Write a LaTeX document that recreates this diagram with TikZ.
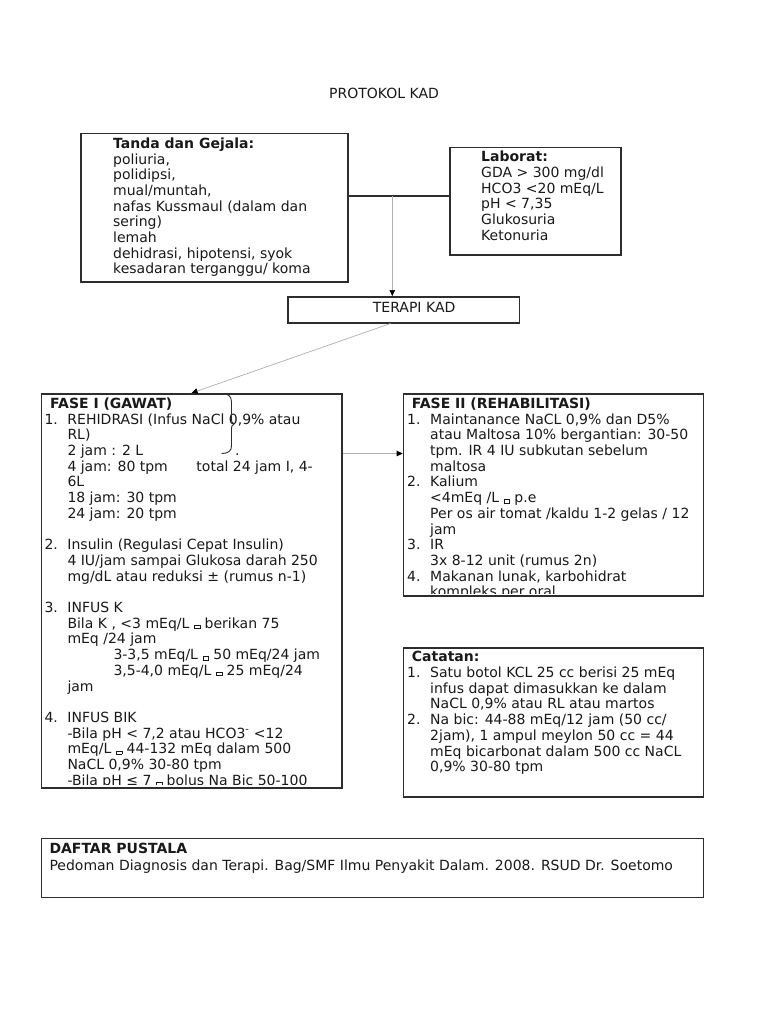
\documentclass[tikz,border=0pt]{standalone}
\usepackage{fontspec}
\setmainfont{DejaVu Sans}
\usepackage{tikz}
\usetikzlibrary{arrows.meta,calc}
\definecolor{boxline}{RGB}{45,45,45}
\definecolor{linkgray}{RGB}{175,175,175}
\newcommand{\nr}[1]{\makebox[23pt][l]{#1}}
\newcommand{\ind}{\hspace*{23pt}}
\newcommand{\tofu}{{\fboxsep=0pt\fboxrule=0.7pt\fbox{\rule{0pt}{2.6pt}\rule{5pt}{0pt}}}}

\begin{document}
\begin{tikzpicture}[x=1pt,y=1pt,
  box/.style={draw=boxline,line width=1.5pt,inner sep=0pt,anchor=north west},
  txt/.style={anchor=north west,inner sep=0pt,align=left,text=black!90,
    font=\fontsize{14pt}{15.7pt}\selectfont},
  link/.style={draw=linkgray,line width=0.7pt,
    -{Triangle[length=6pt,width=5.5pt,color=black]}}]
  \useasboundingbox[fill=white] (0,0) rectangle (768,-1024);
  % title
  \node[txt,anchor=base] (title) at (384,-99) {PROTOKOL KAD};
  % boxes
  \node[box,minimum width=267pt,minimum height=148pt] (tanda) at (80,-133) {};
  \node[box,minimum width=171pt,minimum height=107pt] (laborat) at (449,-147) {};
  \node[box,minimum width=231.6pt,minimum height=26pt] (terapi) at (287,-296) {};
  \node[box,minimum width=300.3pt,minimum height=394pt] (fase1) at (40.7,-393) {};
  \node[box,minimum width=300pt,minimum height=202pt] (fase2) at (402.7,-393) {};
  \node[box,minimum width=300pt,minimum height=148.7pt] (catatan) at (402.7,-647.3) {};
  \node[box,minimum width=662pt,minimum height=59pt] (daftar) at (40.7,-837.5) {};
  % texts
  \node[txt] (tandatxt) at (113,-137.2) {\strut\textbf{Tanda dan Gejala:}\\
    poliuria,\\
    polidipsi,\\
    mual/muntah,\\
    nafas Kussmaul (dalam dan\\
    sering)\\
    lemah\\
    dehidrasi, hipotensi, syok\\
    kesadaran terganggu/ koma};
  \node[txt] (laborattxt) at (481,-150.7) {\strut\textbf{Laborat:}\\
    GDA > 300 mg/dl\\
    HCO3 <20 mEq/L\\
    pH < 7,35\\
    Glukosuria\\
    Ketonuria};
  \node[txt,anchor=base west] (terapitxt) at (372.7,-312.3) {TERAPI KAD};
  \begin{scope}
    \clip (fase1.north west) rectangle ([yshift=4pt]fase1.south east);
    \node[txt] (fase1txt) at (44.3,-397.3) {\strut\hspace*{5.7pt}\textbf{FASE I (GAWAT)}\\
      \nr{1.}REHIDRASI (Infus NaCl 0,9\% atau\\
      \ind RL)\\
      \ind 2 jam : 2 L\\
      \ind\makebox[129pt][l]{4 jam: 80 tpm}total 24 jam I, 4-\\
      \ind 6L\\
      \ind 18 jam: 30 tpm\\
      \ind 24 jam: 20 tpm\\
      \strut\\
      \nr{2.}Insulin (Regulasi Cepat Insulin)\\
      \ind 4 IU/jam sampai Glukosa darah 250\\
      \ind mg/dL atau reduksi ± (rumus n-1)\\
      \strut\\
      \nr{3.}INFUS K\\
      \ind Bila K , <3 mEq/L \tofu\ berikan 75\\
      \ind mEq /24 jam\\
      \hspace*{69pt}3-3,5 mEq/L \tofu\ 50 mEq/24 jam\\
      \hspace*{69pt}3,5-4,0 mEq/L \tofu\ 25 mEq/24\\
      \ind jam\\
      \strut\\
      \nr{4.}INFUS BIK\\
      \ind -Bila pH < 7,2 atau HCO3\textsuperscript{-} <12\\
      \ind mEq/L \tofu\ 44-132 mEq dalam 500\\
      \ind NaCL 0,9\% 30-80 tpm\\
      \ind -Bila pH ≤ 7 \tofu\ bolus Na Bic 50-100};
  \end{scope}
  \begin{scope}
    \clip (fase2.north west) rectangle ([yshift=3pt]fase2.south east);
    \node[txt] (fase2txt) at (407,-397.3) {\strut\hspace*{4.7pt}\textbf{FASE II (REHABILITASI)}\\
      \nr{1.}Maintanance NaCL 0,9\% dan D5\%\\
      \ind atau Maltosa 10\% bergantian: 30-50\\
      \ind tpm. IR 4 IU subkutan sebelum\\
      \ind maltosa\\
      \nr{2.}Kalium\\
      \ind <4mEq /L \tofu\ p.e\\
      \ind Per os air tomat /kaldu 1-2 gelas / 12\\
      \ind jam\\
      \nr{3.}IR\\
      \ind 3x 8-12 unit (rumus 2n)\\
      \nr{4.}Makanan lunak, karbohidrat\\
      \ind kompleks per oral};
  \end{scope}
  \node[txt] (catatantxt) at (407,-650.7) {\strut\hspace*{4.7pt}\textbf{Catatan:}\\
    \nr{1.}Satu botol KCL 25 cc berisi 25 mEq\\
    \ind infus dapat dimasukkan ke dalam\\
    \ind NaCL 0,9\% atau RL atau martos\\
    \nr{2.}Na bic: 44-88 mEq/12 jam (50 cc/\\
    \ind 2jam), 1 ampul meylon 50 cc = 44\\
    \ind mEq bicarbonat dalam 500 cc NaCL\\
    \ind 0,9\% 30-80 tpm};
  \node[txt] (daftartxt) at (49.3,-842.3) {\strut\textbf{DAFTAR PUSTALA}\\[1pt]
    Pedoman Diagnosis dan Terapi. Bag/SMF Ilmu Penyakit Dalam. 2008. RSUD Dr. Soetomo};
  % brace over the rehidrasi lines
  \coordinate (bracetop) at (221.7,-393.5);
  \coordinate (bracebot) at (221.7,-453.5);
  \draw[boxline,line width=0.9pt] (bracetop) .. controls (228,-393.5) and (231.5,-396) .. (231.5,-402)
    -- (231.5,-419) .. controls (231.5,-422) .. (234,-424) .. controls (231.5,-426) .. (231.5,-429)
    -- (231.5,-446) .. controls (231.5,-451) and (228,-453.5) .. (bracebot);
  \node[txt,anchor=base] (dot) at (237.3,-455.5) {.};
  % connectors
  \coordinate (joint) at (392.3,-196);
  \draw[boxline,line width=1.2pt] (tanda.east |- joint) -- (laborat.west |- joint);
  \draw[link] (joint) -- (joint |- terapi.north);
  \draw[link] ([xshift=-13pt]terapi.south) -- (fase1.north);
  \draw[link] (fase1.east |- bracebot) -- (fase2.west |- bracebot);
\end{tikzpicture}
\end{document}
